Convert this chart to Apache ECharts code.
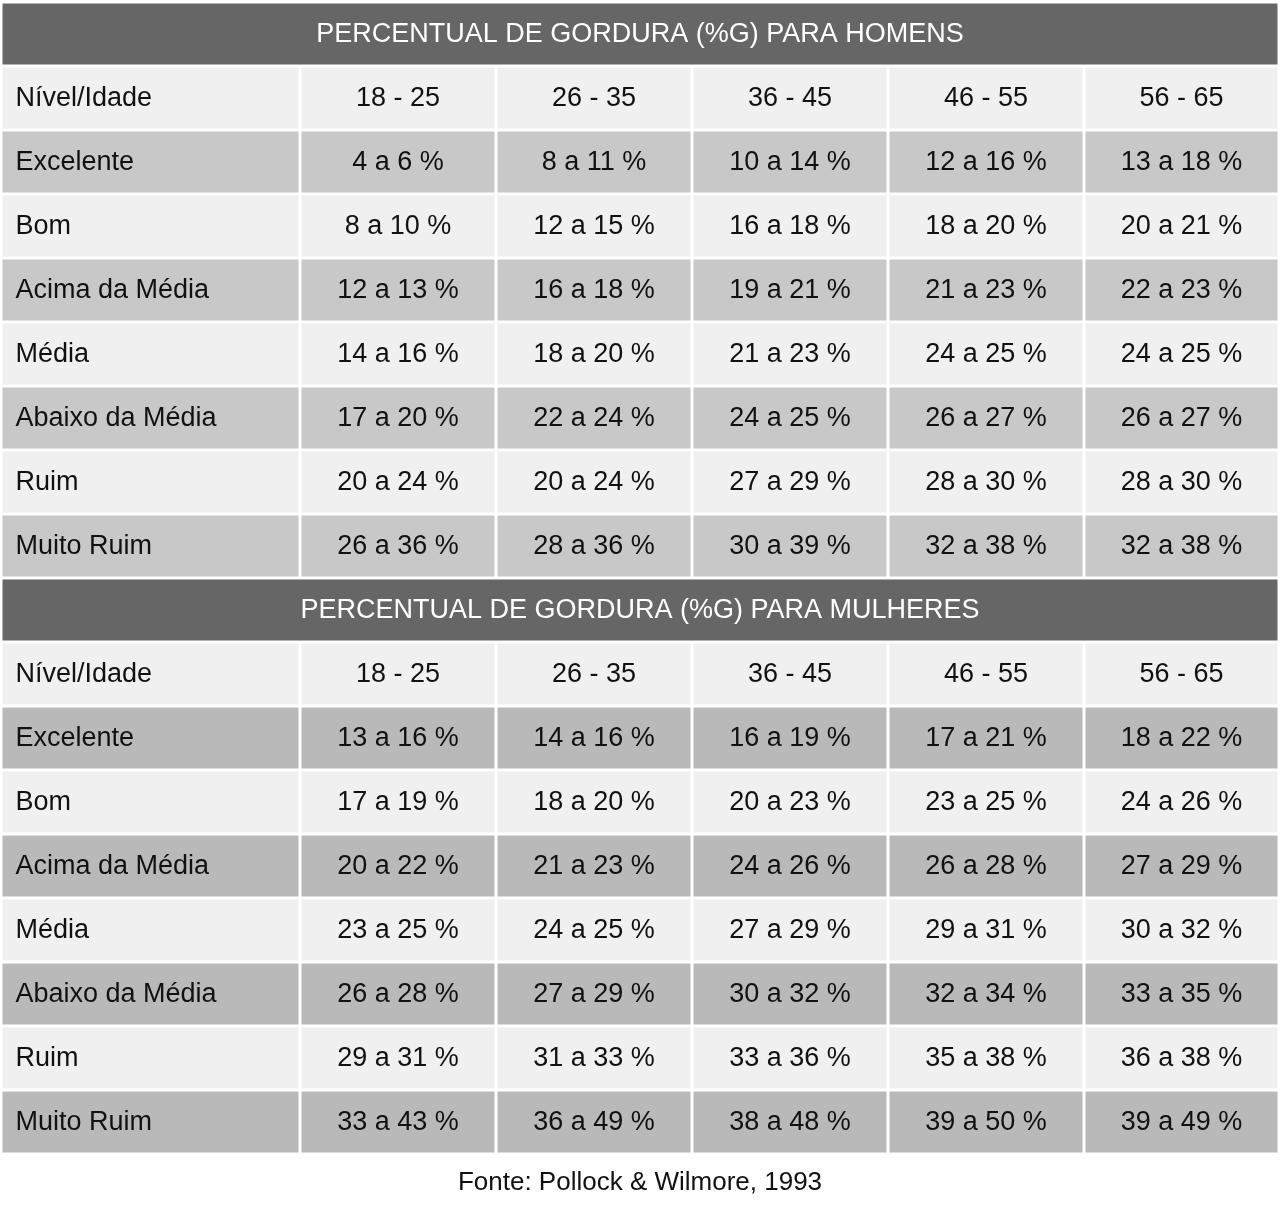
<!DOCTYPE html>
<html><head><meta charset="utf-8">
<script src="https://cdn.jsdelivr.net/npm/echarts@6/dist/echarts.min.js"></script>
<style>html,body{margin:0;background:#fff}#c{width:1280px;height:1224px}</style>
</head><body><div id="c"></div>
<script>
const ages = ['18 - 25','26 - 35','36 - 45','46 - 55','56 - 65'];
const levels = ['Excelente','Bom','Acima da Média','Média','Abaixo da Média','Ruim','Muito Ruim'];
const titleMen = 'PERCENTUAL DE GORDURA (%G) PARA HOMENS';
const titleWomen = 'PERCENTUAL DE GORDURA (%G) PARA MULHERES';
const headerLabel = 'Nível/Idade';
const men = [
 ['4 a 6 %','8 a 11 %','10 a 14 %','12 a 16 %','13 a 18 %'],
 ['8 a 10 %','12 a 15 %','16 a 18 %','18 a 20 %','20 a 21 %'],
 ['12 a 13 %','16 a 18 %','19 a 21 %','21 a 23 %','22 a 23 %'],
 ['14 a 16 %','18 a 20 %','21 a 23 %','24 a 25 %','24 a 25 %'],
 ['17 a 20 %','22 a 24 %','24 a 25 %','26 a 27 %','26 a 27 %'],
 ['20 a 24 %','20 a 24 %','27 a 29 %','28 a 30 %','28 a 30 %'],
 ['26 a 36 %','28 a 36 %','30 a 39 %','32 a 38 %','32 a 38 %']
];
const women = [
 ['13 a 16 %','14 a 16 %','16 a 19 %','17 a 21 %','18 a 22 %'],
 ['17 a 19 %','18 a 20 %','20 a 23 %','23 a 25 %','24 a 26 %'],
 ['20 a 22 %','21 a 23 %','24 a 26 %','26 a 28 %','27 a 29 %'],
 ['23 a 25 %','24 a 25 %','27 a 29 %','29 a 31 %','30 a 32 %'],
 ['26 a 28 %','27 a 29 %','30 a 32 %','32 a 34 %','33 a 35 %'],
 ['29 a 31 %','31 a 33 %','33 a 36 %','35 a 38 %','36 a 38 %'],
 ['33 a 43 %','36 a 49 %','38 a 48 %','39 a 50 %','39 a 49 %']
];
const source = 'Fonte: Pollock & Wilmore, 1993';

const edges = [0,299,495,691,887,1083,1278];
const FILL = {title:'#666666', light:'#f0f0f0', grayM:'#c8c8c8', grayW:'#b9b9b9'};
const data = [];
let row = 0;
function block(title, table, gray){
  data.push({value:[0,row,title,'title',6]}); row++;
  data.push({value:[0,row,headerLabel,'light',1]});
  ages.forEach((a,i)=>data.push({value:[i+1,row,a,'light',1]})); row++;
  levels.forEach((l,r)=>{
    const k = r%2===0 ? gray : 'light';
    data.push({value:[0,row,l,k,1]});
    table[r].forEach((v,i)=>data.push({value:[i+1,row,v,k,1]}));
    row++;
  });
}
block(titleMen, men, 'grayM');
block(titleWomen, women, 'grayW');
const rowsCat = Array.from({length:row},(_,i)=>String(i));

const chart = echarts.init(document.getElementById('c'));
chart.setOption({
  animation:false,
  grid:{left:1,top:2,width:1278,height:1152},
  xAxis:{type:'value',min:0,max:1278,show:false},
  yAxis:{type:'category',data:rowsCat,inverse:true,show:false},
  graphic:[{type:'text',left:'center',top:1170,style:{text:source,font:'26px "Liberation Sans", Arial, sans-serif',fill:'#111'}}],
  series:[{
    type:'custom',
    data:data,
    renderItem:(params,api)=>{
      const col=api.value(0), r=api.value(1), kind=data[params.dataIndex].value[3], span=data[params.dataIndex].value[4];
      const text=data[params.dataIndex].value[2];
      const h=api.size([0,1])[1];
      const p0=api.coord([edges[col],r]);
      const p1=api.coord([edges[col+span],r]);
      const x=p0[0]+1.5, w=p1[0]-p0[0]-3, y=p0[1]-h/2+1.5, hh=h-3;
      const left = col===0 && kind!=='title';
      return {type:'group',children:[
        {type:'rect',shape:{x:x,y:y,width:w,height:hh},style:{fill:FILL[kind]}},
        {type:'text',style:{text:text,x:left?x+13:x+w/2,y:p0[1]+1,align:left?'left':'center',verticalAlign:'middle',
          font:'27px "Liberation Sans", Arial, sans-serif',fill:kind==='title'?'#ffffff':'#111111'}}
      ]};
    }
  }]
});
</script></body></html>
